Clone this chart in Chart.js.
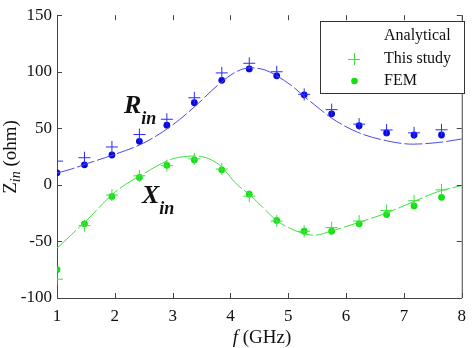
<!DOCTYPE html>
<html>
<head>
<meta charset="utf-8">
<script src="https://cdn.jsdelivr.net/npm/chart.js@4/dist/chart.umd.min.js"></script>
<style>
  html, body { margin: 0; padding: 0; background: #fff; }
  canvas { display: block; }
</style>
</head>
<body>
<canvas id="chart" width="474" height="348"></canvas>
<script>
// sample frequencies (GHz) for the measured / simulated points
const freqs = [1, 1.475, 1.95, 2.425, 2.9, 3.375, 3.85, 4.325, 4.8, 5.275, 5.75, 6.225, 6.7, 7.175, 7.65];
const rinThisStudy = [21, 24, 33.5, 44.5, 58, 77, 99, 107.5, 100, 80, 66.5, 53.7, 48.5, 46, 48.7];
const rinFem = [10.7, 17.7, 26.4, 38.5, 52.8, 72.6, 92.4, 102.5, 96.4, 79.6, 62.8, 52.3, 45.9, 44.1, 44.1];
const xinThisStudy = [-83.4, -36, -9, 8, 17, 23, 14, -10, -32, -41, -37.8, -32, -22.6, -14, -4.4];
const xinFem = [-75, -34.4, -10.2, 6.6, 17.3, 22, 13.3, -8.2, -31.4, -41, -41, -34.4, -26.2, -18.6, -11];

// analytical curve
const analyticF = [1, 1.25, 1.5, 2, 2.5, 3, 3.4, 3.8, 4.1, 4.35, 4.6, 4.8, 5.1, 5.3, 5.45, 5.75, 6.2, 6.7, 7.15, 7.6, 8];
const rinAnalytic = [10.5, 14, 18.5, 27, 37, 53, 70, 89, 100, 103.5, 101.5, 96.5, 86, 77, 71, 59, 46.5, 39, 36, 37.5, 40.6];
const xinAnalytic = [-56, -44, -32, -6.5, 10, 23, 25.5, 18, 1, -9.5, -22, -31.5, -40, -43.5, -44.5, -40.7, -33.5, -24.8, -15.2, -5.8, -0.6];

const xTicks = [1, 2, 3, 4, 5, 6, 7, 8];
const yTicks = [-100, -50, 0, 50, 100, 150];

const SERIF = "'Liberation Serif', 'Times New Roman', serif";
const BLUE_LINE = '#4a4ae8';
const GREEN_LINE = '#3ee03e';
const BLUE_PT = '#0a0adc';
const GREEN_PT = '#12e012';

const pts = (xs, ys) => xs.map((x, i) => ({ x: x, y: ys[i] }));

// rich text helper: parts = [{t, font, dy}]
function richWidth(ctx, parts) {
  let w = 0;
  parts.forEach(p => { ctx.font = p.font; w += ctx.measureText(p.t).width; });
  return w;
}
function drawRich(ctx, parts, x, y) {
  let cx = x;
  parts.forEach(p => {
    ctx.font = p.font;
    ctx.fillText(p.t, cx, y + (p.dy || 0));
    cx += ctx.measureText(p.t).width;
  });
}

const decorations = {
  id: 'decorations',
  afterDraw(chart) {
    const ctx = chart.ctx;
    const a = chart.chartArea;
    const xs = chart.scales.x, ys = chart.scales.y;
    ctx.save();
    ctx.strokeStyle = '#444';
    ctx.lineWidth = 1;
    // right frame line
    ctx.beginPath();
    ctx.moveTo(a.right + 0.5, a.top);
    ctx.lineTo(a.right + 0.5, a.bottom);
    ctx.stroke();
    // inward ticks
    const tl = 5;
    ctx.beginPath();
    xTicks.forEach(v => {
      const px = Math.round(xs.getPixelForValue(v)) + 0.5;
      ctx.moveTo(px, a.bottom); ctx.lineTo(px, a.bottom - tl);
      ctx.moveTo(px, a.top); ctx.lineTo(px, a.top + tl);
    });
    yTicks.forEach(v => {
      const py = Math.round(ys.getPixelForValue(v)) + 0.5;
      ctx.moveTo(a.left, py); ctx.lineTo(a.left + tl, py);
      ctx.moveTo(a.right, py); ctx.lineTo(a.right - tl, py);
    });
    ctx.stroke();

    ctx.fillStyle = '#111';
    ctx.textBaseline = 'alphabetic';
    ctx.textAlign = 'left';

    // x axis title
    const xt = [
      { t: 'f', font: 'italic 19px ' + SERIF },
      { t: ' (GHz)', font: '19px ' + SERIF }
    ];
    drawRich(ctx, xt, 262 - richWidth(ctx, xt) / 2, 343);

    // y axis title (rotated)
    const yt = [
      { t: 'Z', font: '19px ' + SERIF },
      { t: 'in', font: 'italic 14px ' + SERIF, dy: 4 },
      { t: ' (ohm)', font: '19px ' + SERIF }
    ];
    ctx.save();
    ctx.translate(16, 157);
    ctx.rotate(-Math.PI / 2);
    drawRich(ctx, yt, -richWidth(ctx, yt) / 2, 0);
    ctx.restore();

    // curve labels
    drawRich(ctx, [
      { t: 'R', font: 'bold italic 26px ' + SERIF },
      { t: 'in', font: 'bold italic 18px ' + SERIF, dy: 11 }
    ], 124, 113);
    drawRich(ctx, [
      { t: 'X', font: 'bold italic 26px ' + SERIF },
      { t: 'in', font: 'bold italic 18px ' + SERIF, dy: 11 }
    ], 142, 203);

    // legend box
    const lx = 320, ly = 21, lw = 144, lh = 72;
    ctx.fillStyle = '#fff';
    ctx.fillRect(lx, ly, lw, lh);
    ctx.strokeStyle = '#333';
    ctx.strokeRect(lx + 0.5, ly + 0.5, lw, lh);
    ctx.fillStyle = '#111';
    ctx.font = '16px ' + SERIF;
    ctx.textBaseline = 'middle';
    const labels = ['Analytical', 'This study', 'FEM'];
    const rows = [36, 59, 81];
    labels.forEach((l, i) => ctx.fillText(l, 384, rows[i]));
    // legend markers
    ctx.strokeStyle = GREEN_LINE;
    ctx.beginPath();
    ctx.moveTo(348, rows[1] + 0.5); ctx.lineTo(360, rows[1] + 0.5);
    ctx.moveTo(354.5, rows[1] - 6); ctx.lineTo(354.5, rows[1] + 6);
    ctx.stroke();
    ctx.fillStyle = GREEN_PT;
    ctx.beginPath();
    ctx.arc(354.5, rows[2], 3.3, 0, Math.PI * 2);
    ctx.fill();
    ctx.restore();
  }
};

new Chart(document.getElementById('chart'), {
  type: 'scatter',
  data: {
    datasets: [
      {
        label: 'Rin analytical',
        type: 'line',
        data: pts(analyticF, rinAnalytic),
        borderColor: BLUE_LINE,
        borderWidth: 1,
        borderDash: [18, 3],
        pointRadius: 0,
        cubicInterpolationMode: 'monotone',
        fill: false
      },
      {
        label: 'Xin analytical',
        type: 'line',
        data: pts(analyticF, xinAnalytic),
        borderColor: GREEN_LINE,
        borderWidth: 1,
        borderDash: [26, 3],
        pointRadius: 0,
        cubicInterpolationMode: 'monotone',
        fill: false
      },
      {
        label: 'Rin this study',
        data: pts(freqs, rinThisStudy),
        pointStyle: 'cross',
        pointRadius: 6,
        borderColor: '#2a2aff',
        borderWidth: 1
      },
      {
        label: 'Xin this study',
        data: pts(freqs, xinThisStudy),
        pointStyle: 'cross',
        pointRadius: 6,
        borderColor: '#3be23b',
        borderWidth: 1
      },
      {
        label: 'Rin FEM',
        data: pts(freqs, rinFem),
        pointStyle: 'circle',
        pointRadius: 3.4,
        backgroundColor: BLUE_PT,
        borderColor: BLUE_PT,
        borderWidth: 0
      },
      {
        label: 'Xin FEM',
        data: pts(freqs, xinFem),
        pointStyle: 'circle',
        pointRadius: 3.4,
        backgroundColor: GREEN_PT,
        borderColor: GREEN_PT,
        borderWidth: 0
      }
    ]
  },
  options: {
    responsive: false,
    animation: false,
    layout: { padding: { top: 11, right: 5, left: 0, bottom: 0 } },
    plugins: {
      legend: { display: false },
      tooltip: { enabled: false }
    },
    scales: {
      x: {
        type: 'linear',
        min: 1,
        max: 8,
        afterFit: s => { s.height = 50; },
        afterBuildTicks: s => { s.ticks = xTicks.map(v => ({ value: v })); },
        grid: { display: false, drawTicks: false },
        border: { display: true, color: '#444', width: 1 },
        ticks: { color: '#111', padding: 8, font: { family: SERIF, size: 17 }, maxRotation: 0 }
      },
      y: {
        type: 'linear',
        min: -100,
        max: 150,
        afterFit: s => { s.width = 57; },
        afterBuildTicks: s => { s.ticks = yTicks.map(v => ({ value: v })); },
        grid: { display: false, drawTicks: false },
        border: { display: true, color: '#444', width: 1 },
        ticks: { color: '#111', padding: 5, font: { family: SERIF, size: 17 } }
      }
    }
  },
  plugins: [decorations]
});
</script>
</body>
</html>
